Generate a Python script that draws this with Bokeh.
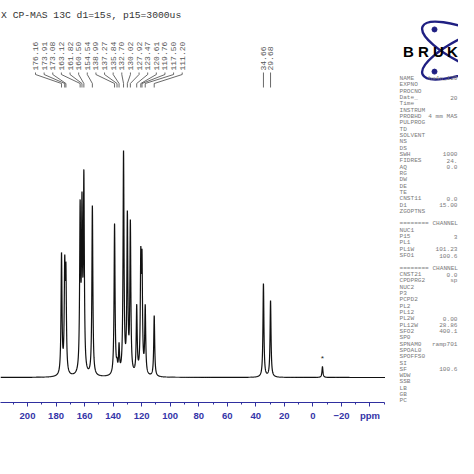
import numpy as np
from bokeh.plotting import figure
from bokeh.models import Range1d, LinearAxis, FixedTicker
from bokeh.layouts import row
from bokeh.core.properties import value
from bokeh.embed import file_html
from bokeh.resources import INLINE

# ---------------- data ----------------
title_text = "X CP-MAS 13C d1=15s, p15=3000us"

# peak positions (ppm) and relative heights (tallest = 100)
peak_ppm = [176.16, 173.91, 173.08, 163.12, 161.82, 160.50, 154.54, 138.99,
            137.27, 135.84, 132.70, 130.02, 127.92, 123.47, 120.61, 119.76,
            117.50, 111.20, 34.66, 29.68, -6.7]
peak_height = [55.1, 54.0, 50.7, 78.4, 81.9, 91.6, 75.8, 67.8,
               8.8, 15.4, 100.0, 73.6, 69.6, 32.2, 57.7, 56.4,
               32.2, 27.3, 41.4, 33.9, 4.8]

label_group1 = ["176.16", "173.91", "173.08", "163.12", "161.82", "160.50",
                "154.54", "138.99", "137.27", "135.84", "132.70", "130.02",
                "127.92", "123.47", "120.61", "119.76", "117.50", "111.20"]
label_group2 = ["34.66", "29.68"]
sideband_ppm = [-6.7]
sideband_mark = ["*"]

major_ticks = [220, 200, 180, 160, 140, 120, 100, 80, 60, 40, 20, 0, -20, -40]
minor_ticks = [210, 190, 170, 150, 130, 110, 90, 70, 50, 30, 10, -10, -30, -50]
tick_overrides = {-40: "ppm"}

param_names = ["NAME", "EXPNO", "PROCNO", "Date_", "Time", "INSTRUM", "PROBHD",
               "PULPROG", "TD", "SOLVENT", "NS", "DS", "SWH", "FIDRES", "AQ",
               "RG", "DW", "DE", "TE", "CNST11", "D1", "ZGOPTNS", "",
               "======== CHANNEL", "NUC1", "P15", "PL1", "PL1W", "SFO1", "",
               "======== CHANNEL", "CNST21", "CPDPRG2", "NUC2", "P3", "PCPD2",
               "PL2", "PL12", "PL2W", "PL12W", "SFO2", "SP0", "SPNAM0",
               "SPOAL0", "SPOFFS0", "SI", "SF", "WDW", "SSB", "LB", "GB", "PC"]
param_values = ["hx4n_120", "", "", "20", "", "", "4 mm MAS", "", "", "", "", "",
                "1000", "24.", "0.0", "", "", "", "", "0.0", "15.00", "", "",
                "", "", "3", "", "101.23", "100.6", "",
                "", "0.0", "sp", "", "", "", "", "", "0.00", "28.86", "400.1",
                "", "ramp701", "", "", "", "100.6", "", "", "", "", ""]
logo_letters = ["B", "R", "U", "K"]

# ---------------- geometry helpers (page pixels) ----------------
PX0, PX_PER_PPM = 312.4, 1.427      # x pixel of 0 ppm, pixels per ppm
BASE_Y, PX_PER_UNIT = 377.0, 2.27   # y pixel of baseline, pixels per unit


def ppm_at(px):
    return (PX0 - px) / PX_PER_PPM


def unit_at(py):
    return (BASE_Y - py) / PX_PER_UNIT


# ---------------- spectrum ----------------
w = 0.4
P = np.array(peak_ppm)
H = np.array(peak_height)
M = 1.0 / (1.0 + ((P[:, None] - P[None, :]) / w) ** 2)
amp = np.clip(np.linalg.solve(M, H), 0, None)
xs = np.arange(ppm_at(0), ppm_at(385), -0.02)
ys = (amp[None, :] / (1.0 + ((xs[:, None] - P[None, :]) / w) ** 2)).sum(axis=1)

p = figure(width=385, height=458,
           x_range=Range1d(ppm_at(0), ppm_at(385)),
           y_range=Range1d(unit_at(402), unit_at(0)),
           output_backend="svg", toolbar_location=None,
           x_axis_location=None, y_axis_location=None,
           min_border_left=0, min_border_right=0, min_border_top=0,
           min_border_bottom=56)
p.grid.visible = False
p.outline_line_color = None
p.background_fill_color = "white"
p.border_fill_color = "white"

p.line(xs, ys, line_color="#111111", line_width=1.2)

axis = LinearAxis(ticker=FixedTicker(ticks=major_ticks, minor_ticks=minor_ticks),
                  bounds=(-50, 230), major_label_overrides=tick_overrides)
blue = "#2f2f9f"
axis.axis_line_color = blue
axis.axis_line_width = 1.2
axis.major_tick_line_color = blue
axis.minor_tick_line_color = blue
axis.major_tick_in = 0
axis.major_tick_out = 4
axis.minor_tick_in = 0
axis.minor_tick_out = 2
axis.major_label_standoff = 3
axis.major_label_text_color = "#3434a8"
axis.major_label_text_font = "Liberation Sans"
axis.major_label_text_font_style = "bold"
axis.major_label_text_font_size = "9.5px"
p.add_layout(axis, "below")

mono = value("Liberation Mono")

# title
p.text(x=[ppm_at(0.5)], y=[unit_at(15)], text=[title_text], text_font=mono,
       text_font_size="9.7px", text_color="#333333", text_baseline="middle")

# peak labels group 1 with leader lines
y_lab = unit_at(70)
y_l = [unit_at(72), unit_at(74), unit_at(83), unit_at(87)]
lab_x1 = [ppm_at(35 + 8.63 * i) for i in range(len(label_group1))]
peak_x1 = [float(t) for t in label_group1]
p.text(x=lab_x1, y=[y_lab] * len(lab_x1), text=label_group1, angle=np.pi / 2,
       text_font=mono, text_font_size="8px", text_color="#555555",
       text_align="left", text_baseline="middle")
p.multi_line(xs=[[lx, lx, px, px] for lx, px in zip(lab_x1, peak_x1)],
             ys=[y_l] * len(lab_x1), line_color="#444444", line_width=0.8)

# peak labels group 2
peak_x2 = [float(t) for t in label_group2]
p.text(x=peak_x2, y=[y_lab] * 2, text=label_group2, angle=np.pi / 2,
       text_font=mono, text_font_size="8px", text_color="#555555",
       text_align="left", text_baseline="middle")
p.multi_line(xs=[[px, px] for px in peak_x2], ys=[[y_l[0], y_l[3]]] * 2,
             line_color="#444444", line_width=0.8)

# spinning side band marker
p.text(x=sideband_ppm, y=[unit_at(358)], text=sideband_mark, text_font=mono,
       text_font_size="8px", text_color="#222222", text_align="center",
       text_baseline="middle")

# ---------------- right panel ----------------
q = figure(width=73, height=458, x_range=Range1d(385, 458),
           y_range=Range1d(458, 0), output_backend="svg", toolbar_location=None,
           x_axis_location=None, y_axis_location=None, min_border=0)
q.grid.visible = False
q.outline_line_color = None

orbit = "#1f1f82"
q.ellipse(x=[476, 476], y=[57, 57], width=118, height=40, angle=[0.42, -0.42],
          fill_color=None, line_color=orbit, line_width=2.4)
q.scatter(x=[434, 434], y=[33, 81], size=5, color=orbit)
q.text(x=[408, 423, 438, 452], y=[58] * 4, text=logo_letters,
       text_font=value("Liberation Sans"), text_font_style="bold",
       text_font_size="15px", text_color="black", text_align="center",
       text_baseline="middle")

row_y = [89 + 7.2 * i for i in range(len(param_names))]
q.text(x=[399] * len(param_names), y=row_y, text=param_names, text_font=mono,
       text_font_size="6.1px", text_color="#7a7a7a", text_baseline="middle")
vy = [yy for yy, v in zip(row_y, param_values) if v]
vt = [v for v in param_values if v]
q.text(x=[457] * len(vt), y=vy, text=vt, text_font=mono, text_font_size="6.1px",
       text_color="#7a7a7a", text_align="right", text_baseline="middle")

layout = row(p, q, spacing=0)
open("out.html", "w").write(file_html(layout, INLINE))
